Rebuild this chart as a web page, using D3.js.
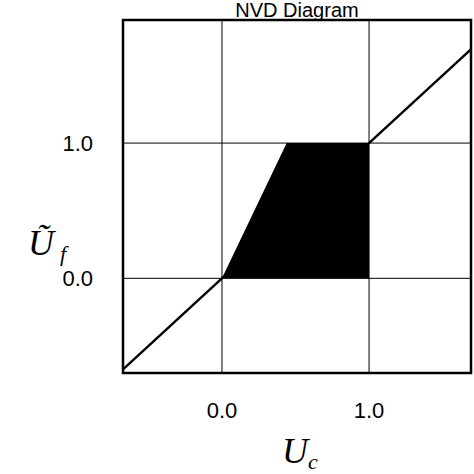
<!DOCTYPE html><html><head><script src="https://cdn.jsdelivr.net/npm/d3@7"></script>
<style>body{margin:0;background:#fff}</style></head><body><svg id="c" width="474" height="474"></svg>
<script>
const xDomain=[-0.673,1.70], yDomain=[-0.70,1.91];
const xTicks=[0,1], yTicks=[0,1];
const tickLabels=["0.0","1.0"];
const diagonal=[[-1,-1],[2,2]];
const region=[[0,0],[0.44,1],[1,1],[1,0]];
const svg=d3.select("#c");
const x=d3.scaleLinear().domain(xDomain).range([123,472]);
const y=d3.scaleLinear().domain(yDomain).range([373,20]);
svg.append("defs").append("clipPath").attr("id","cp").append("rect").attr("x",123).attr("y",20).attr("width",349).attr("height",353);
const g=svg.append("g").attr("clip-path","url(#cp)");
xTicks.forEach(v=>g.append("line").attr("x1",x(v)).attr("x2",x(v)).attr("y1",20).attr("y2",373).attr("stroke","#000").attr("stroke-width",1));
yTicks.forEach(v=>g.append("line").attr("y1",y(v)).attr("y2",y(v)).attr("x1",123).attr("x2",472).attr("stroke","#000").attr("stroke-width",1));
g.append("path").attr("d",d3.line().x(d=>x(d[0])).y(d=>y(d[1]))(region)+"Z").attr("fill","#000");
g.append("path").attr("d",d3.line().x(d=>x(d[0])).y(d=>y(d[1]))(diagonal)).attr("stroke","#000").attr("stroke-width",2.5).attr("fill","none");
svg.append("rect").attr("x",123).attr("y",20).attr("width",348).attr("height",353).attr("fill","none").attr("stroke","#000").attr("stroke-width",2.5);
const f="Liberation Sans, Arial, sans-serif";
xTicks.forEach((v,i)=>svg.append("text").attr("x",x(v)).attr("y",418).attr("text-anchor","middle").attr("font-family",f).attr("font-size",22).text(tickLabels[i]));
yTicks.forEach((v,i)=>svg.append("text").attr("x",93).attr("y",y(v)+8).attr("text-anchor","end").attr("font-family",f).attr("font-size",22).text(tickLabels[i]));
svg.append("text").attr("x",297).attr("y",17).attr("text-anchor","middle").attr("font-family",f).attr("font-size",20).text("NVD Diagram");
const s="Liberation Serif, Times New Roman, serif";
const xl=svg.append("text").attr("x",300).attr("y",463).attr("text-anchor","middle").attr("font-family",s).attr("font-style","italic").attr("font-size",36);
xl.append("tspan").text("U");xl.append("tspan").attr("font-size",22).attr("dy",6).text("c");
const yl=svg.append("text").attr("x",28).attr("y",255).attr("font-family",s).attr("font-style","italic").attr("font-size",36);
yl.append("tspan").text("Ũ");yl.append("tspan").attr("font-size",22).attr("dx",6).attr("dy",6).text("f");
</script></body></html>
